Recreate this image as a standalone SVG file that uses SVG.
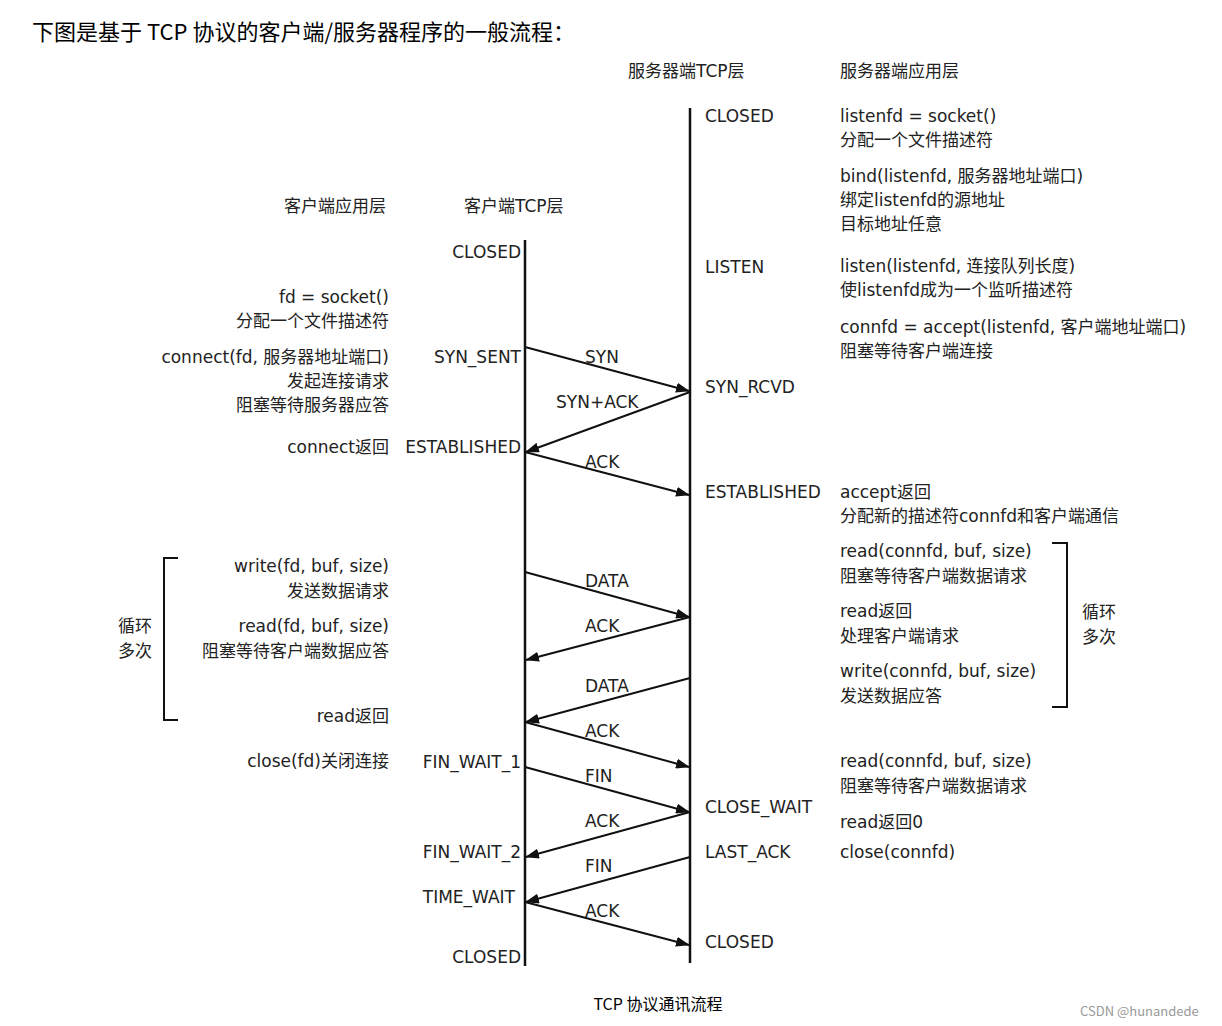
<svg xmlns="http://www.w3.org/2000/svg" width="1222" height="1026" viewBox="0 0 1222 1026">
<defs>
<style>
text{font-family:"DejaVu Sans","Noto Sans CJK SC",sans-serif;font-size:17px;fill:#222}
.r{text-anchor:end}
.t{font-family:"Noto Sans CJK SC",sans-serif;font-size:22px;fill:#000}
.c{font-family:"Noto Sans CJK SC",sans-serif;font-size:16px;text-anchor:middle;fill:#000}
.w{font-family:"Noto Sans CJK SC",sans-serif;font-size:13px;fill:#999}
.ln{stroke:#111;stroke-width:2.5;fill:none}
.a{stroke:#111;stroke-width:2;fill:none;marker-end:url(#h)}
</style>
<marker id="h" markerWidth="14" markerHeight="10" refX="13" refY="5" orient="auto" markerUnits="userSpaceOnUse"><path d="M0,0 L14,5 L0,10 z" fill="#111"/></marker>
</defs>
<rect width="1222" height="1026" fill="#fff"/>
<text class="t" x="32" y="40">下图是基于 TCP 协议的客户端/服务器程序的一般流程：</text>
<g id="client-line"><line class="ln" x1="525" y1="240" x2="525" y2="966"/></g>
<g id="server-line"><line class="ln" x1="690" y1="108" x2="690" y2="963"/></g>
<g id="headers">
<text x="628" y="77">服务器端TCP层</text>
<text x="840" y="77">服务器端应用层</text>
<text x="284" y="212">客户端应用层</text>
<text x="464" y="212">客户端TCP层</text>
</g>
<g id="client-states">
<text class="r" x="521" y="258">CLOSED</text>
<text class="r" x="521" y="363">SYN_SENT</text>
<text class="r" x="521" y="453">ESTABLISHED</text>
<text class="r" x="521" y="768">FIN_WAIT_1</text>
<text class="r" x="521" y="858">FIN_WAIT_2</text>
<text class="r" x="515" y="903">TIME_WAIT</text>
<text class="r" x="521" y="963">CLOSED</text>
</g>
<g id="client-app">
<text class="r" x="389" y="303">fd = socket()</text>
<text class="r" x="389" y="327">分配一个文件描述符</text>
<text class="r" x="389" y="363">connect(fd, 服务器地址端口)</text>
<text class="r" x="389" y="387">发起连接请求</text>
<text class="r" x="389" y="411">阻塞等待服务器应答</text>
<text class="r" x="389" y="453">connect返回</text>
<text class="r" x="389" y="572">write(fd, buf, size)</text>
<text class="r" x="389" y="597">发送数据请求</text>
<text class="r" x="389" y="632">read(fd, buf, size)</text>
<text class="r" x="389" y="657">阻塞等待客户端数据应答</text>
<text class="r" x="389" y="722">read返回</text>
<text class="r" x="389" y="767">close(fd)关闭连接</text>
<text x="118" y="632">循环</text>
<text x="118" y="657">多次</text>
<path class="ln" style="stroke-width:2" d="M178,558 H164 V720 H178"/>
</g>
<g id="server-states">
<text x="705" y="122">CLOSED</text>
<text x="705" y="273">LISTEN</text>
<text x="705" y="393">SYN_RCVD</text>
<text x="705" y="498">ESTABLISHED</text>
<text x="705" y="813">CLOSE_WAIT</text>
<text x="705" y="858">LAST_ACK</text>
<text x="705" y="948">CLOSED</text>
</g>
<g id="server-app">
<text x="840" y="122">listenfd = socket()</text>
<text x="840" y="146">分配一个文件描述符</text>
<text x="840" y="182">bind(listenfd, 服务器地址端口)</text>
<text x="840" y="206">绑定listenfd的源地址</text>
<text x="840" y="230">目标地址任意</text>
<text x="840" y="272">listen(listenfd, 连接队列长度)</text>
<text x="840" y="296">使listenfd成为一个监听描述符</text>
<text x="840" y="333">connfd = accept(listenfd, 客户端地址端口)</text>
<text x="840" y="357">阻塞等待客户端连接</text>
<text x="840" y="498">accept返回</text>
<text x="840" y="522">分配新的描述符connfd和客户端通信</text>
<text x="840" y="557">read(connfd, buf, size)</text>
<text x="840" y="582">阻塞等待客户端数据请求</text>
<text x="840" y="617">read返回</text>
<text x="840" y="642">处理客户端请求</text>
<text x="840" y="677">write(connfd, buf, size)</text>
<text x="840" y="702">发送数据应答</text>
<text x="840" y="767">read(connfd, buf, size)</text>
<text x="840" y="792">阻塞等待客户端数据请求</text>
<text x="840" y="828">read返回0</text>
<text x="840" y="858">close(connfd)</text>
<text x="1082" y="618">循环</text>
<text x="1082" y="643">多次</text>
<path class="ln" style="stroke-width:2" d="M1052,543 H1067 V707 H1052"/>
</g>
<g id="connectors">
<line class="a" x1="525" y1="347" x2="689" y2="391"/>
<line class="a" x1="690" y1="392" x2="526" y2="452"/>
<line class="a" x1="525" y1="452" x2="689" y2="495"/>
<line class="a" x1="525" y1="572" x2="689" y2="617"/>
<line class="a" x1="690" y1="617" x2="526" y2="660"/>
<line class="a" x1="690" y1="678" x2="526" y2="722"/>
<line class="a" x1="525" y1="722" x2="689" y2="767"/>
<line class="a" x1="525" y1="767" x2="689" y2="812"/>
<line class="a" x1="690" y1="812" x2="526" y2="857"/>
<line class="a" x1="690" y1="857" x2="526" y2="902"/>
<line class="a" x1="525" y1="902" x2="689" y2="945"/>
<text x="585" y="363">SYN</text>
<text x="556" y="408">SYN+ACK</text>
<text x="585" y="468">ACK</text>
<text x="585" y="587">DATA</text>
<text x="585" y="632">ACK</text>
<text x="585" y="692">DATA</text>
<text x="585" y="737">ACK</text>
<text x="585" y="782">FIN</text>
<text x="585" y="827">ACK</text>
<text x="585" y="872">FIN</text>
<text x="585" y="917">ACK</text>
</g>
<text class="c" x="658" y="1010">TCP 协议通讯流程</text>
<text class="w" x="1080" y="1016">CSDN @hunandede</text>
</svg>
